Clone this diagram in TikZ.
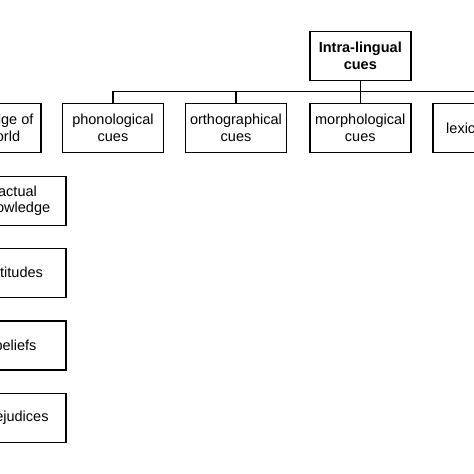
\documentclass[tikz,border=0pt]{standalone}
\usepackage{fontspec}
\setmainfont{Liberation Sans}
\usepackage{tikz}
\usetikzlibrary{positioning}

\tikzset{
  cue/.style={draw, line width=1.5pt, minimum width=101pt, minimum height=49pt,
              align=center, inner sep=2pt, font=\fontsize{14.5}{16.5}\selectfont},
  link/.style={line width=1.5pt}
}

\begin{document}
\begin{tikzpicture}[x=1pt, y=-1pt]
        \useasboundingbox (0,0) rectangle (474,474);
        \clip (0,0) rectangle (474,474);

        % top node and its row
        \node[cue, font=\fontsize{14.5}{16.5}\selectfont\bfseries] (intra) at (360.3,55.8) {Intra-lingual\\cues};

        \node[cue] (world) at (-9.3,127.9) {knowledge of\\the world};
        \node[cue] (phon) at (113,127.9) {phonological\\cues};
        \node[cue] (orth) at (236,127.9) {orthographical\\cues};
        \node[cue] (morph) at (360.3,127.9) {morphological\\cues};
        \node[cue] (lex) at (483.7,127.9) {lexical cues};

        % left column
        \node[cue] (fact) at (15.5,200.8) {factual\\knowledge};
        \node[cue] (att) at (15.5,272.8) {attitudes};
        \node[cue] (bel) at (15.5,345.3) {beliefs};
        \node[cue] (prej) at (15.5,417.8) {prejudices};

        \coordinate (bus) at (0,91.7);

        \draw[link] (intra) -- (morph);
        \draw[link] (phon.north) -- (phon.north |- bus) -- (lex.north |- bus) -- (lex.north);
        \draw[link] (orth.north) -- (orth.north |- bus);

    \end{tikzpicture}
\end{document}
